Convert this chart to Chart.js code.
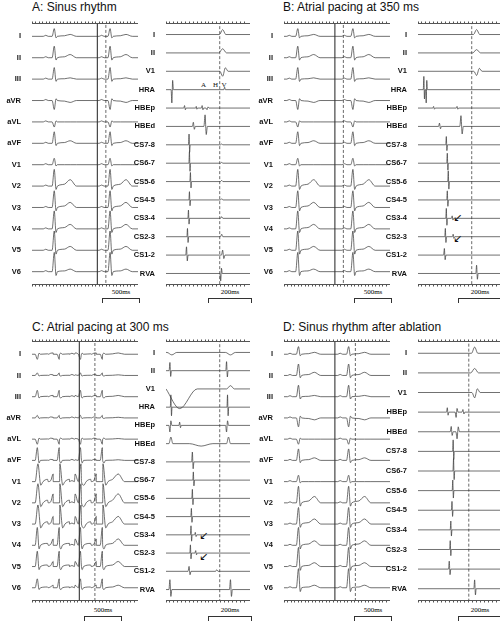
<!DOCTYPE html>
<html><head><meta charset="utf-8">
<script src="https://cdn.jsdelivr.net/npm/chart.js@4.4.1/dist/chart.umd.min.js"></script>
<style>
body{margin:0;background:#fff;width:500px;height:630px;position:relative;overflow:hidden;font-family:Arial,"Liberation Sans",sans-serif}
canvas{position:absolute}
.title{position:absolute;font-size:12px;color:#111}
.bar{position:absolute;border-top:1px solid #333;height:4px;border-left:1px solid #333;border-right:1px solid #333}
.bar span{position:absolute;top:-11px;width:100%;text-align:center;font:7px "Liberation Serif",serif}
.arr{position:absolute;font:11px "DejaVu Sans",sans-serif;color:#111}
</style></head><body>
<div class="title" style="left:32px;top:0">A: Sinus rhythm</div>
<div class="title" style="left:283px;top:0">B: Atrial pacing at 350 ms</div>
<div class="title" style="left:32px;top:320px">C: Atrial pacing at 300 ms</div>
<div class="title" style="left:283px;top:320px">D: Sinus rhythm after ablation</div>
<div class="bar" style="left:102px;top:298px;width:36px"><span>500ms</span></div>
<div class="bar" style="left:208px;top:298px;width:42px"><span>200ms</span></div>
<div class="bar" style="left:354px;top:298px;width:36px"><span>500ms</span></div>
<div class="bar" style="left:458px;top:298px;width:42px"><span>200ms</span></div>
<div class="bar" style="left:84px;top:616px;width:36px"><span>500ms</span></div>
<div class="bar" style="left:208px;top:616px;width:42px"><span>200ms</span></div>
<div class="bar" style="left:354px;top:616px;width:36px"><span>500ms</span></div>
<div class="bar" style="left:458px;top:616px;width:42px"><span>200ms</span></div>
<div class="arr" style="left:453px;top:211px">&#8601;</div>
<div class="arr" style="left:453px;top:232px">&#8601;</div>
<div class="arr" style="left:199px;top:529px">&#8601;</div>
<div class="arr" style="left:199px;top:550px">&#8601;</div>
<div class="arr" style="left:201px;top:81px;font:7px 'Liberation Serif',serif">A&nbsp;&nbsp;&nbsp;&nbsp;H&nbsp;&nbsp;V</div>
<script>
const ecgLeads = ['I','II','III','aVR','aVL','aVF','V1','V2','V3','V4','V5','V6'];
const ecgQ = {
  A: [0.6,0.9,0.9,-0.7,-0.4,0.9,0.5,1.3,1.3,1.4,1.5,1.5],
  B: [0.6,0.9,0.9,-0.7,-0.4,0.9,0.5,1.3,1.3,1.4,1.5,1.5],
  C: [-0.4,0.2,0.5,0.2,-0.4,1.0,1.4,1.5,1.5,1.4,1.2,0.7],
  D: [0.6,0.9,0.9,-0.7,-0.4,0.9,0.5,1.3,1.3,1.4,1.5,1.5]
};
const ecgT = {
  A: [0.15,0.25,0.1,-0.15,0,0.2,0,0.5,0.4,0.35,0.3,0.2],
  B: [0.15,0.25,0.1,-0.15,0,0.2,0,0.5,0.4,0.35,0.3,0.2],
  C: [0.1,0.05,0.1,0.05,0.05,0.05,0.6,0.7,0.6,0.5,0.4,0.2],
  D: [0.15,0.25,0.1,-0.15,0,0.2,0,0.5,0.4,0.35,0.3,0.2]
};
const ecgBeats = {A:[300,1090], B:[180,960], C:[60,370,670,980], D:[190,900]};
const ecgLines = {A:[925,1045], B:[720,840], C:[670,890], D:[720,1010]};

const icLeads = {
  A:['I','II','V1','HRA','HBEp','HBEd','CS7-8','CS6-7','CS5-6','CS4-5','CS3-4','CS2-3','CS1-2','RVA'],
  B:['I','II','V1','HRA','HBEp','HBEd','CS7-8','CS6-7','CS5-6','CS4-5','CS3-4','CS2-3','CS1-2','RVA'],
  C:['I','II','V1','HRA','HBEp','HBEd','CS7-8','CS6-7','CS5-6','CS4-5','CS3-4','CS2-3','CS1-2','RVA'],
  D:['I','II','V1','HBEp','HBEd','CS7-8','CS6-7','CS5-6','CS4-5','CS3-4','CS2-3','CS1-2','RVA']
};
// events per channel: [time ms, amplitude, half width ms, shape] ('b' biphasic, 'm' mono)
const icEvents = {
  A: [[[290,0.6,16,'m']],[[290,0.5,20,'m']],[[290,-0.6,14,'b']],[[30,-1.6,4,'b'],[300,0.3,4,'m']],
      [[95,0.3,4,'b'],[155,0.2,3,'b'],[185,0.3,4,'b'],[210,-0.2,5,'b']],[[140,0.5,5,'b'],[200,1.4,6,'b']],
      [[118,1.3,3,'b'],[285,0.1,6,'m']],[[120,1.4,3,'b'],[285,0.1,6,'m']],[[125,1.1,3,'b'],[285,0.15,6,'m']],
      [[120,1.0,3,'b'],[285,0.15,6,'m']],[[115,1.0,3,'b'],[285,0.2,6,'m']],[[110,1.0,3,'b'],[285,0.3,6,'m']],
      [[105,1.0,4,'b'],[290,0.6,6,'b']],[[280,-0.9,4,'b']]],
  B: [[[300,0.6,16,'m']],[[300,0.4,20,'m']],[[300,-0.5,14,'b']],[[30,1.6,3,'b'],[42,-1.6,3,'b']],
      [[80,0.2,4,'b'],[200,0.2,4,'b']],[[110,0.4,5,'b'],[220,1.3,6,'b']],
      [[145,1.0,3,'b']],[[150,1.2,3,'b']],[[155,1.3,3,'b']],[[150,1.1,3,'b']],[[145,1.2,3,'b'],[175,0.3,4,'b']],
      [[140,1.0,3,'b'],[180,0.3,4,'b']],[[135,0.8,4,'b']],[[300,1.0,4,'b']]],
  C: [[[30,-0.3,25,'m'],[330,-0.3,25,'m']],[[20,1.0,4,'b'],[310,1.1,4,'b']],[[70,-2.4,90,'m'],[330,0.4,20,'m']],
      [[25,1.5,3,'b'],[315,1.5,3,'b']],[[20,-0.8,5,'b'],[70,0.4,4,'b'],[310,-0.8,5,'b']],[[25,0.8,10,'m'],[180,-0.3,60,'m'],[320,0.8,10,'m']],
      [[135,1.2,4,'b']],[[140,1.0,3,'b']],[[135,1.1,3,'b']],[[130,1.0,3,'b']],[[128,1.1,3,'b'],[150,0.3,4,'b']],
      [[125,1.0,3,'b'],[152,0.3,4,'b']],[[118,0.6,5,'b'],[260,0.2,6,'m']],[[20,1.2,5,'b'],[330,1.2,5,'b']]],
  D: [[[290,0.7,16,'m']],[[290,0.5,20,'m']],[[290,-0.6,14,'b']],
      [[150,0.5,4,'b'],[195,-0.6,5,'b'],[230,0.3,5,'b']],[[170,0.6,5,'b'],[200,-0.8,6,'b']],
      [[180,1.3,3,'b']],[[182,1.4,3,'b']],[[178,1.2,3,'b']],[[174,1.0,3,'b']],[[168,1.0,3,'b']],
      [[165,1.0,3,'b']],[[160,0.9,4,'b']],[[290,1.0,4,'b']]]
};
const icLines = {A:[275], B:[275], C:[275], D:[260]};

const ink = '#333';

function ecgTrace(q, t, beats, span) {
  const pts = [{x:0,y:0}];
  beats.forEach(b => {
    const w = Math.abs(q) > 1.1 && t > 0.5 ? 1.6 : 1;
    [[-140,0],[-105,0.08],[-70,0],[-15,0],[15*w,q],[40*w,-q*0.2],[60*w,0],[160,t*0.3],[240,t],[330,0]]
      .forEach(p => pts.push({x:b+p[0], y:p[1]}));
  });
  pts.push({x:span,y:0});
  return pts.filter(p => p.x >= 0 && p.x <= span).sort((a,b)=>a.x-b.x);
}
function icTrace(evts, span) {
  const pts = [{x:0,y:0}];
  evts.forEach(([t,a,w,s]) => {
    const sh = s === 'm' ? [[-w,0],[0,a],[w,0]] : [[-w,0],[0,a],[w,-a*0.7],[2*w,0]];
    sh.forEach(p => pts.push({x:t+p[0], y:p[1]}));
  });
  pts.push({x:span,y:0});
  return pts.filter(p => p.x >= 0 && p.x <= span).sort((a,b)=>a.x-b.x);
}

function panel(left, top, width, height, yw, names, traces, span, lines, tickStep, gain) {
  const c = document.createElement('canvas');
  c.width = width; c.height = height;
  c.style.left = left + 'px'; c.style.top = top + 'px';
  document.body.appendChild(c);
  const ds = traces.map((tr, i) => ({
    data: tr.map(p => ({x:p.x, y:i - p.y * gain})),
    borderColor: ink, borderWidth: 0.7, pointRadius: 0,
    tension: 0.25, cubicInterpolationMode: 'monotone'
  }));
  lines.forEach((lx, k) => ds.push({
    data: [{x:lx,y:-1},{x:lx,y:names.length}],
    borderColor: '#444', borderWidth: k === 0 && lines.length > 1 ? 1.2 : 0.8,
    borderDash: k === lines.length - 1 ? [3,2] : [], pointRadius: 0
  }));
  const tickAxis = (pos) => ({
    type:'linear', position:pos, min:0, max:span,
    ticks:{stepSize:tickStep, callback:()=>'', padding:0, font:{size:1}},
    grid:{drawOnChartArea:false, tickLength:2, color:'#555'},
    border:{display:true, color:'#555'}
  });
  new Chart(c, {
    type:'line', data:{datasets:ds},
    options:{
      animation:false, responsive:false,
      plugins:{legend:{display:false}, tooltip:{enabled:false}},
      layout:{padding:0},
      scales:{
        x: tickAxis('bottom'), x2: tickAxis('top'),
        y:{type:'linear', reverse:true, min:-0.6, max:names.length - 0.4,
           afterBuildTicks: ax => { ax.ticks = names.map((n,i)=>({value:i})); },
           afterFit: ax => { ax.width = yw; },
           ticks:{callback:v => names[v], color:'#111', font:{size:7.5, weight:'bold', family:'Arial'}, padding:3},
           grid:{display:false}, border:{display:false}}
      }
    }
  });
}

function draw(key, left, top, h) {
  const span = 1500;
  panel(left, top, 138, h, 32, ecgLeads,
    ecgLeads.map((_, i) => ecgTrace(ecgQ[key][i], ecgT[key][i], ecgBeats[key], span)),
    span, ecgLines[key], 50, 0.6);
  const names = icLeads[key];
  panel(left + 130, top, 120, h, 36, names,
    names.map((_, i) => icTrace(icEvents[key][i] || [], 430)),
    430, icLines[key], 20, 0.45);
}
draw('A', 0, 16, 276);
draw('B', 252, 16, 276);
draw('C', 0, 334, 274);
draw('D', 252, 334, 274);
</script></body></html>
